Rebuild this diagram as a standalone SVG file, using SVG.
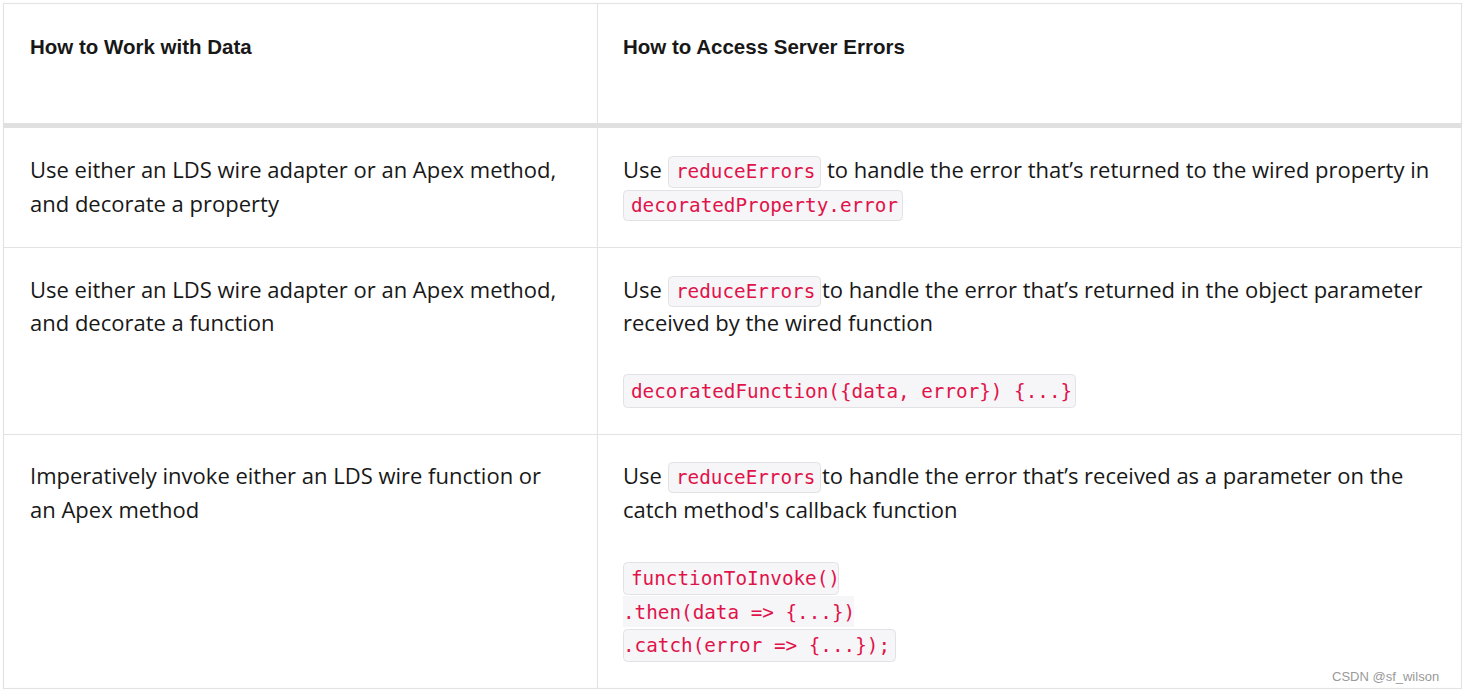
<svg xmlns="http://www.w3.org/2000/svg" width="1464" height="692" viewBox="0 0 1464 692">
<style>
.t{font-family:"Open Sans","Noto Sans",sans-serif;font-size:22px;fill:#181818}
.h{font-family:"Liberation Sans",sans-serif;font-size:20.5px;font-weight:bold}
.c{font-family:"DejaVu Sans Mono","Liberation Mono",monospace;font-size:19.3px;fill:#e0134a}
.b{fill:#f6f6f8;stroke:#e2e2e6;stroke-width:1}
.l{stroke:#e3e3e3;stroke-width:1.2;fill:none}
</style>
<rect width="1464" height="692" fill="#fff"/>
<g id="grid">
<rect x="3.5" y="3.5" width="1458" height="685" class="l"/>
<line x1="597.5" y1="3" x2="597.5" y2="689" class="l"/>
<rect x="3" y="123" width="1459" height="5" fill="#e0e0e0"/>
<line x1="3" y1="247.5" x2="1462" y2="247.5" class="l"/>
<line x1="3" y1="434.5" x2="1462" y2="434.5" class="l"/>
</g>
<g id="header">
<text x="30" y="54" class="t h">How to Work with Data</text>
<text x="623" y="54" class="t h">How to Access Server Errors</text>
</g>
<g id="row1">
<text x="30" y="178" class="t">Use either an LDS wire adapter or an Apex method,</text>
<text x="30" y="212" class="t">and decorate a property</text>
<text x="623" y="178" class="t">Use</text>
<rect x="668.5" y="156.5" width="152" height="31" rx="4" class="b"/>
<text x="676" y="178" class="c">reduceErrors</text>
<text x="827" y="178" class="t">to handle the error that’s returned to the wired property in</text>
<rect x="623.5" y="190.5" width="279" height="30" rx="4" class="b"/>
<text x="631" y="212" class="c">decoratedProperty.error</text>
</g>
<g id="row2">
<text x="30" y="298" class="t">Use either an LDS wire adapter or an Apex method,</text>
<text x="30" y="331" class="t">and decorate a function</text>
<text x="623" y="298" class="t">Use</text>
<rect x="668.5" y="276.5" width="152" height="30" rx="4" class="b"/>
<text x="676" y="298" class="c">reduceErrors</text>
<text x="822" y="298" class="t">to handle the error that’s returned in the object parameter</text>
<text x="623" y="331" class="t">received by the wired function</text>
<rect x="623.5" y="374.5" width="452" height="33" rx="4" class="b"/>
<text x="631" y="398" class="c">decoratedFunction({data, error}) {...}</text>
</g>
<g id="row3">
<text x="30" y="484" class="t">Imperatively invoke either an LDS wire function or</text>
<text x="30" y="518" class="t">an Apex method</text>
<text x="623" y="484" class="t">Use</text>
<rect x="668.5" y="462.5" width="152" height="30" rx="4" class="b"/>
<text x="676" y="484" class="c">reduceErrors</text>
<text x="822" y="484" class="t">to handle the error that’s received as a parameter on the</text>
<text x="623" y="518" class="t">catch method's callback function</text>
<rect x="623.5" y="562.5" width="215" height="32" rx="4" class="b"/>
<text x="631" y="585" class="c">functionToInvoke()</text>
<rect x="623" y="596" width="231" height="31" fill="#f6f6f8"/>
<text x="623" y="619" class="c">.then(data =&gt; {...})</text>
<rect x="623.5" y="629.5" width="272" height="32" rx="4" class="b"/>
<text x="623" y="652" class="c">.catch(error =&gt; {...});</text>
</g>
<text x="1332" y="681" font-family="Liberation Sans,sans-serif" font-size="13" fill="#999">CSDN @sf_wilson</text>
</svg>
